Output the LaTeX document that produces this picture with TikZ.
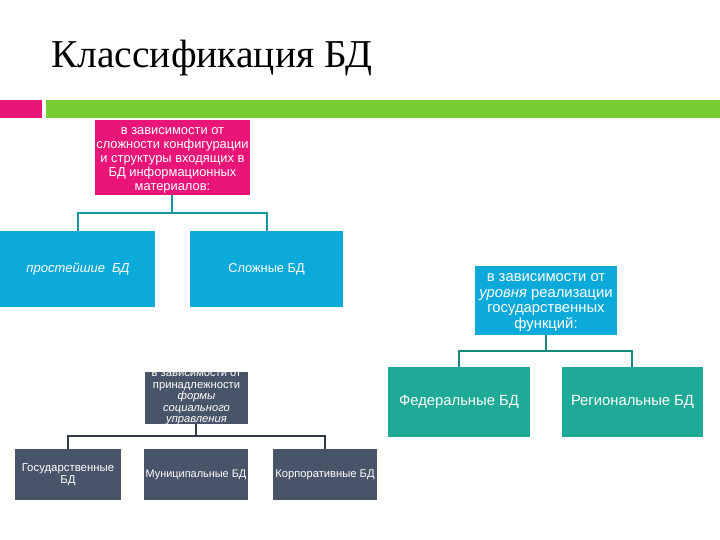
\documentclass[tikz,border=0pt]{standalone}
\usepackage{fontspec}
\setmainfont{Liberation Serif}
\newfontfamily\boxfont{Liberation Sans}
\definecolor{pinkc}{RGB}{233,22,120}
\definecolor{greenc}{RGB}{120,205,50}
\definecolor{bluec}{RGB}{12,170,218}
\definecolor{tealc}{RGB}{30,170,150}
\definecolor{tealline}{RGB}{20,150,160}
\definecolor{slatec}{RGB}{72,84,104}
\definecolor{slateline}{RGB}{50,58,70}
\tikzset{
  boxbase/.style={inner sep=0pt, outer sep=0pt, text=white, align=center, font=\boxfont},
  pinkbox/.style={boxbase, fill=pinkc},
  bluebox/.style={boxbase, fill=bluec},
  tealbox/.style={boxbase, fill=tealc},
  slatebox/.style={boxbase, fill=slatec},
  tline/.style={draw=tealline, line width=1.6pt},
  sline/.style={draw=slateline, line width=1.6pt},
  gline/.style={draw=tealc!80!black, line width=1.6pt},
}
\begin{document}
\begin{tikzpicture}[x=1pt,y=-1pt]
\useasboundingbox (0,0) rectangle (720,540);
\fill[white] (0,0) rectangle (720,540);
% title
\node[anchor=base west, inner sep=0pt, font=\fontsize{39.5}{42}\selectfont] (title) at (51,68) {Классификация БД};
% bars
\fill[pinkc] (0,100) rectangle (42,118);
\fill[greenc] (46,100) rectangle (720,118);
% pink box
\path[pinkbox] (95,120) rectangle (250,195);
\node[boxbase, font=\boxfont\fontsize{12.9}{14}\selectfont] (pk) at (172.5,160) {в зависимости от\\сложности конфигурации\\и структуры входящих в\\БД информационных\\материалов:};
\coordinate (pkb) at (172,195);
% blue boxes
\path[bluebox] (0,231) rectangle (155,307);
\node[boxbase, font=\boxfont\itshape\fontsize{13}{14}\selectfont] (simple) at (78,269) {простейшие\ \ БД};
\path[bluebox] (190,231) rectangle (343,307);
\node[boxbase, font=\boxfont\fontsize{12.8}{14}\selectfont] (complex) at (266.5,269) {Сложные БД};
\coordinate (st) at (78,231);
\coordinate (ct) at (267,231);
\draw[tline] (pkb) -- (172,213) -| (st);
\draw[tline] (172,213) -| (ct);
% right blue box
\path[bluebox] (475,266) rectangle (617,335);
\node[boxbase, font=\boxfont\fontsize{14.8}{15.5}\selectfont] (lvl) at (546,302.5) {в зависимости от\\{\itshape уровня} реализации\\государственных\\функций:};
\coordinate (lvlb) at (546,335);
% teal boxes
\path[tealbox] (388,367) rectangle (530,437);
\node[boxbase, font=\boxfont\fontsize{14.8}{16}\selectfont] (fed) at (459,402) {Федеральные БД};
\path[tealbox] (562,367) rectangle (703,437);
\node[boxbase, font=\boxfont\fontsize{14.8}{16}\selectfont] (reg) at (632.5,402) {Региональные БД};
\coordinate (fedt) at (459,367);
\coordinate (regt) at (632,367);
\draw[gline] (lvlb) -- (546,351) -| (fedt);
\draw[gline] (546,351) -| (regt);
% slate top box with clipped text
\path[slatebox] (145,372) rectangle (248,424);
\begin{scope}
\clip (145,372) rectangle (248,424);
\node[boxbase, font=\boxfont\fontsize{11.2}{11.5}\selectfont] (own) at (196.5,398) {в зависимости от\\принадлежности\\{\itshape формы}\\{\itshape социального}\\{\itshape управления}};
\end{scope}
\coordinate (ownb) at (196,424);
% slate boxes
\path[slatebox] (15,449) rectangle (121,500);
\node[boxbase, font=\boxfont\fontsize{11.4}{12.5}\selectfont] (gov) at (68,474.5) {Государственные\\БД};
\path[slatebox] (144,449) rectangle (248,500);
\node[boxbase, font=\boxfont\fontsize{10.9}{12}\selectfont] (mun) at (196,474.5) {Муниципальные БД};
\path[slatebox] (273,449) rectangle (377,500);
\node[boxbase, font=\boxfont\fontsize{11.2}{12}\selectfont] (corp) at (325,474.5) {Корпоративные БД};
\coordinate (govt) at (68,449);
\coordinate (munt) at (196,449);
\coordinate (corpt) at (325,449);
\draw[sline] (ownb) -- (196,436) -| (govt);
\draw[sline] (196,436) -| (corpt);
\end{tikzpicture}
\end{document}
